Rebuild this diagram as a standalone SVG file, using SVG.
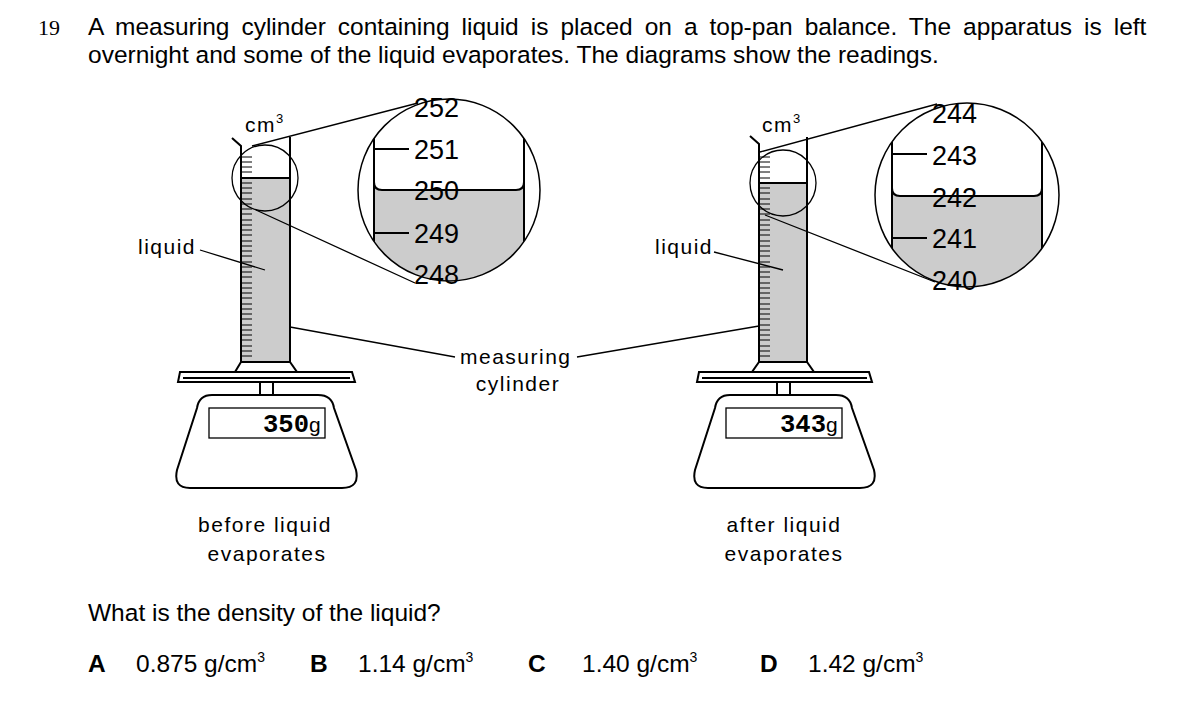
<svg xmlns="http://www.w3.org/2000/svg" width="1186" height="716" viewBox="0 0 1186 716">
<style>
.q{font-family:"Liberation Sans",Arial,sans-serif;font-size:24.5px;fill:#000}
.l{font-family:"Liberation Sans",Arial,sans-serif;font-size:21px;fill:#000;letter-spacing:1.5px}
.n{font-family:"Liberation Sans",Arial,sans-serif;font-size:27px;fill:#000}
.d{font-family:"Liberation Mono",monospace;font-size:26px;font-weight:bold;fill:#000}
.s{fill:none;stroke:#000;stroke-width:2}
.t{fill:none;stroke:#000;stroke-width:1.3}
.k{fill:none;stroke:#000;stroke-width:1}
.liq{fill:#ccc}
</style>
<defs>
<clipPath id="c1"><circle cx="449" cy="190" r="91"/></clipPath>
<clipPath id="c2"><circle cx="967" cy="195" r="92"/></clipPath>
</defs>
<rect width="1186" height="716" fill="#fff"/>
<text x="38" y="35" style="font-family:'Liberation Serif',serif;font-size:22px">19</text>
<text class="q" x="88" y="35" word-spacing="5.2">A measuring cylinder containing liquid is placed on a top-pan balance. The apparatus is left</text>
<text class="q" x="88" y="63">overnight and some of the liquid evaporates. The diagrams show the readings.</text>

<g id="left">
<rect class="liq" x="241" y="178" width="49" height="184"/>
<path class="s" d="M232,138 L241,146 L241,362 M290,137 L290,362 M241,178 L290,178"/>
<path class="s" d="M241,362 L290,362 L297,372 L235,372 Z" fill="#fff"/>
<path class="k" d="M241,157h11M241,162h11M241,167h11M241,172h11M241,183h11M241,188h11M241,193h11M241,199h11M241,204h11M241,209h11M241,214h11M241,220h11M241,225h11M241,230h11M241,235h11M241,241h11M241,246h11M241,251h11M241,256h11M241,262h11M241,267h11M241,272h11M241,277h11M241,283h11M241,288h11M241,293h11M241,298h11M241,304h11M241,309h11M241,314h11M241,319h11M241,325h11M241,330h11M241,335h11M241,340h11M241,346h11M241,351h11M241,356h11"/>
<circle class="t" cx="265" cy="178" r="33"/>
<path class="t" d="M252,146 L418,103 M256,210 L415,283"/>
<circle cx="449" cy="190" r="91" fill="#fff"/>
<path class="liq" d="M374,182 Q374,190 382,190 L516,190 Q524,190 524,182 L524,300 L374,300 Z" clip-path="url(#c1)"/>
<g clip-path="url(#c1)">
<path class="s" d="M374,100 L374,300 M524,100 L524,300 M374,182 Q374,190 382,190 L516,190 Q524,190 524,182"/>
</g>
<circle cx="449" cy="190" r="91" fill="none" stroke="#000" stroke-width="1.5"/>
<path class="s" d="M374,149 H409 M374,233 H409"/>
<text class="n" x="414" y="117">252</text>
<text class="n" x="414" y="159">251</text>
<text class="n" x="414" y="200">250</text>
<text class="n" x="414" y="243">249</text>
<text class="n" x="414" y="284">248</text>
<text class="l" x="245" y="132">cm<tspan font-size="13" dy="-9">3</tspan></text>
<path class="s" d="M235,372 L180,372 L178,382 L355,382 L352,372 L297,372 M183,378 L350,378" stroke-width="1.6"/>
<path class="s" d="M260,383 V395 M273,383 V395"/>
<path class="s" d="M212,395 H318 Q332,395 334,408 L356,470 Q360,488 342,488 H190 Q173,488 177,470 L197,408 Q199,395 212,395 Z"/>
<rect class="t" x="209" y="408" width="116" height="30" fill="#fff"/>
<text class="d" x="263" y="432" textLength="46" lengthAdjust="spacingAndGlyphs">350</text>
<text class="l" x="309" y="432" font-size="15">g</text>
</g>

<g id="right">
<rect class="liq" x="759" y="183" width="48" height="179"/>
<path class="s" d="M750,136 L759,144 L759,362 M807,137 L807,362 M759,183 L807,183"/>
<path class="s" d="M759,362 L807,362 L814,372 L752,372 Z" fill="#fff"/>
<path class="k" d="M759,157h11M759,162h11M759,167h11M759,172h11M759,178h11M759,188h11M759,193h11M759,199h11M759,204h11M759,209h11M759,214h11M759,220h11M759,225h11M759,230h11M759,235h11M759,241h11M759,246h11M759,251h11M759,256h11M759,262h11M759,267h11M759,272h11M759,277h11M759,283h11M759,288h11M759,293h11M759,298h11M759,304h11M759,309h11M759,314h11M759,319h11M759,325h11M759,330h11M759,335h11M759,340h11M759,346h11M759,351h11M759,356h11"/>
<circle class="t" cx="783" cy="183" r="33"/>
<path class="t" d="M760,152 L937,104 M765,215 L935,282"/>
<circle cx="967" cy="195" r="92" fill="#fff"/>
<path class="liq" d="M892,188 Q892,196 900,196 L1034,196 Q1042,196 1042,188 L1042,300 L892,300 Z" clip-path="url(#c2)"/>
<g clip-path="url(#c2)">
<path class="s" d="M892,100 L892,300 M1042,100 L1042,300 M892,188 Q892,196 900,196 L1034,196 Q1042,196 1042,188"/>
</g>
<circle cx="967" cy="195" r="92" fill="none" stroke="#000" stroke-width="1.5"/>
<path class="s" d="M892,154 H927 M892,238 H927"/>
<text class="n" x="932" y="123">244</text>
<text class="n" x="932" y="165">243</text>
<text class="n" x="932" y="207">242</text>
<text class="n" x="932" y="248">241</text>
<text class="n" x="932" y="290">240</text>
<text class="l" x="762" y="132">cm<tspan font-size="13" dy="-9">3</tspan></text>
<path class="s" d="M752,372 L699,372 L697,382 L872,382 L869,372 L814,372 M702,378 L867,378" stroke-width="1.6"/>
<path class="s" d="M777,383 V395 M790,383 V395"/>
<path class="s" d="M730,395 H836 Q850,395 852,408 L874,470 Q878,488 860,488 H708 Q691,488 695,470 L715,408 Q717,395 730,395 Z"/>
<rect class="t" x="726" y="408" width="116" height="30" fill="#fff"/>
<text class="d" x="780" y="432" textLength="46" lengthAdjust="spacingAndGlyphs">343</text>
<text class="l" x="826" y="432" font-size="15">g</text>
</g>

<g id="labels">
<text class="l" x="138" y="254">liquid</text>
<text class="l" x="655" y="254">liquid</text>
<text class="l" x="460" y="364">measuring</text>
<text class="l" x="518" y="391" text-anchor="middle">cylinder</text>
<text class="l" x="265" y="532" text-anchor="middle">before liquid</text>
<text class="l" x="267" y="561" text-anchor="middle">evaporates</text>
<text class="l" x="784" y="532" text-anchor="middle">after liquid</text>
<text class="l" x="784" y="561" text-anchor="middle">evaporates</text>
</g>
<g id="connectors">
<path class="t" d="M200,250 L265,270 M714,252 L783,270 M290,327 L455,357 M577,357 L759,326"/>
</g>

<text class="q" x="88" y="621">What is the density of the liquid?</text>
<g class="q">
<text x="88" y="672" font-weight="bold">A</text>
<text x="136" y="672">0.875 g/cm<tspan font-size="14" dy="-10">3</tspan></text>
<text x="310" y="672" font-weight="bold">B</text>
<text x="358" y="672">1.14 g/cm<tspan font-size="14" dy="-10">3</tspan></text>
<text x="528" y="672" font-weight="bold">C</text>
<text x="582" y="672">1.40 g/cm<tspan font-size="14" dy="-10">3</tspan></text>
<text x="760" y="672" font-weight="bold">D</text>
<text x="808" y="672">1.42 g/cm<tspan font-size="14" dy="-10">3</tspan></text>
</g>
</svg>
